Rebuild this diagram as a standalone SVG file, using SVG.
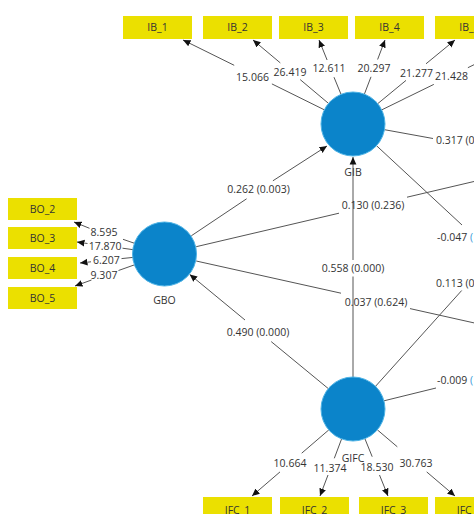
<svg xmlns="http://www.w3.org/2000/svg" width="474" height="514" viewBox="0 0 474 514">
<style>
.ln{fill:none;stroke:#555;stroke-width:1}
.ind{fill:#EBE000}
.lv{fill:#0B84CA;stroke:#4FB4E6;stroke-width:1}
text{font-family:"Segoe UI","Open Sans","Noto Sans",sans-serif;font-size:10.5px;fill:#333}
.m{text-anchor:middle}
.bl{fill:#3A9AD9}
</style>
<defs>
<marker id="ah" markerWidth="8" markerHeight="8" refX="7.5" refY="4" orient="auto" markerUnits="userSpaceOnUse"><path d="M0,0.6 L7.5,4 L0,7.4 z" fill="#111"/></marker>
</defs>
<rect width="474" height="514" fill="#fff"/>
<g id="connectors">
<path class="ln" marker-end="url(#ah)" d="M324.3,109.8 L271.9,83.9 M234.2,65.3 L183,40"/>
<path class="ln" marker-end="url(#ah)" d="M328.5,103.4 L300.2,79.6 M280.3,62.9 L253,40"/>
<path class="ln" marker-end="url(#ah)" d="M341,94.3 L334,77.2 M327.1,60 L319,40"/>
<path class="ln" marker-end="url(#ah)" d="M364.4,94.1 L371,76.8 M377.6,59.5 L385,40"/>
<path class="ln" marker-end="url(#ah)" d="M377.7,103.7 L406,80.4 M426,63.8 L455,40"/>
<path class="ln" d="M381.7,109.9 L433.8,84.4 M467.9,67.7 L532.6,36"/>
<path class="ln" d="M384.5,129.7 L433,138.5"/>
<path class="ln" d="M376.5,145.7 L462,225"/>
<path class="ln" d="M196.2,246.7 L339,213.2 M407,197.2 L486.3,178.6"/>
<path class="ln" d="M196.2,261 L341,293.2 M410,308.6 L487,325.8"/>
<path class="ln" marker-end="url(#ah)" d="M191.3,235.8 L246.6,198.8 M272.9,180.8 L327,146"/>
<path class="ln" marker-end="url(#ah)" d="M328.3,388.6 L271.2,341.6 M245,320 L189.7,274.4"/>
<path class="ln" marker-end="url(#ah)" d="M353,377 L353,276.5 M353,260 L353,157"/>
<path class="ln" d="M374,388 L461.7,290.5"/>
<path class="ln" d="M384,400.8 L436,388"/>
<path class="ln" marker-end="url(#ah)" d="M134.8,243.4 L123,239.3 M89.5,228.3 L74,222"/>
<path class="ln" marker-end="url(#ah)" d="M133.3,249.7 L122.5,248.2 M87.5,243.5 L77,242"/>
<path class="ln" marker-end="url(#ah)" d="M133.2,257.4 L121.5,258.6 M91,261.8 L80,263"/>
<path class="ln" marker-end="url(#ah)" d="M134.9,264.7 L118.5,270.5 M91.5,280 L75,286"/>
<path class="ln" marker-end="url(#ah)" d="M328.8,429.9 L301.7,453.2 M280,471.9 L252,496"/>
<path class="ln" marker-end="url(#ah)" d="M341.6,438.9 L334.3,458.3 M328,475 L320,496"/>
<path class="ln" marker-end="url(#ah)" d="M364.9,438.7 L372.2,456.7 M379.5,475 L388,496"/>
<path class="ln" marker-end="url(#ah)" d="M377.3,429.8 L397.3,446.8 M426.7,471.9 L455,496"/>
</g>
<g id="labels">
<text class="m" x="252.5" y="80.7">15.066</text>
<text class="m" x="290" y="75.7">26.419</text>
<text class="m" x="329" y="71.7">12.611</text>
<text class="m" x="374" y="71.7">20.297</text>
<text class="m" x="416.5" y="76.7">21.277</text>
<text class="m" x="451.5" y="79.7">21.428</text>
<text x="436" y="143.7">0.317 (0</text>
<text x="437" y="240.7">-0.047 <tspan class="bl">(</tspan></text>
<text x="436" y="286.7">0.113 (0</text>
<text x="437" y="383.7">-0.009 <tspan class="bl">(</tspan></text>
<text class="m" x="258.5" y="192.7">0.262 (0.003)</text>
<text class="m" x="373" y="208.7">0.130 (0.236)</text>
<text class="m" x="353" y="271.7">0.558 (0.000)</text>
<text class="m" x="376" y="305.7">0.037 (0.624)</text>
<text class="m" x="258" y="336.2">0.490 (0.000)</text>
<text class="m" x="104" y="236">8.595</text>
<text class="m" x="105.2" y="250.4">17.870</text>
<text class="m" x="106.3" y="263.7">6.207</text>
<text class="m" x="104" y="279.4">9.307</text>
<text class="m" x="290" y="466.7">10.664</text>
<text class="m" x="330" y="471.7">11.374</text>
<text class="m" x="377" y="470.7">18.530</text>
<text class="m" x="416" y="466.7">30.763</text>
</g>
<g id="GIB"><circle class="lv" cx="353" cy="124" r="32"/><text class="m" x="353" y="175.7">GIB</text></g>
<g id="GBO"><circle class="lv" cx="164.5" cy="254" r="32"/><text class="m" x="164.5" y="303.7">GBO</text></g>
<g id="GIFC"><circle class="lv" cx="353" cy="409" r="32"/><text class="m" x="353" y="461.7">GIFC</text></g>
<g id="IB_1"><rect class="ind" x="123" y="16" width="69" height="23"/><text class="m" x="157.5" y="31.2">IB_1</text></g>
<g id="IB_2"><rect class="ind" x="203" y="16" width="69" height="23"/><text class="m" x="237.5" y="31.2">IB_2</text></g>
<g id="IB_3"><rect class="ind" x="279" y="16" width="69" height="23"/><text class="m" x="313.5" y="31.2">IB_3</text></g>
<g id="IB_4"><rect class="ind" x="355" y="16" width="69" height="23"/><text class="m" x="389.5" y="31.2">IB_4</text></g>
<g id="IB_5"><rect class="ind" x="435" y="16" width="69" height="23"/><text class="m" x="469.5" y="31.2">IB_5</text></g>
<g id="BO_2"><rect class="ind" x="8" y="198" width="69" height="22"/><text class="m" x="42.5" y="212.7">BO_2</text></g>
<g id="BO_3"><rect class="ind" x="8" y="227" width="69" height="22"/><text class="m" x="42.5" y="241.7">BO_3</text></g>
<g id="BO_4"><rect class="ind" x="8" y="257" width="69" height="22"/><text class="m" x="42.5" y="271.7">BO_4</text></g>
<g id="BO_5"><rect class="ind" x="8" y="287" width="69" height="22"/><text class="m" x="42.5" y="301.7">BO_5</text></g>
<g id="IFC_1"><rect class="ind" x="203" y="497" width="69" height="23"/><text class="m" x="237.5" y="513.6">IFC_1</text></g>
<g id="IFC_2"><rect class="ind" x="280" y="497" width="69" height="23"/><text class="m" x="314.5" y="513.6">IFC_2</text></g>
<g id="IFC_3"><rect class="ind" x="359" y="497" width="69" height="23"/><text class="m" x="393.5" y="513.6">IFC_3</text></g>
<g id="IFC_4"><rect class="ind" x="435" y="497" width="69" height="23"/><text class="m" x="469.5" y="513.6">IFC_4</text></g>
</svg>
